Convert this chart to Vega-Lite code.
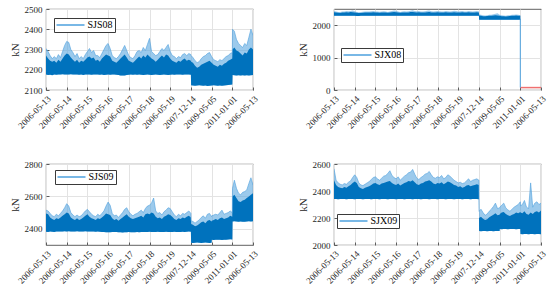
{
"$schema": "https://vega.github.io/schema/vega-lite/v6.json",
"background": "white",
"padding": {"left": 8, "top": 4, "right": 0, "bottom": 0},
"config": {
 "font": "Times New Roman, Liberation Serif, serif",
 "view": {"stroke": "#3a3a3a", "strokeWidth": 0.8},
 "axis": {"labelFont": "Times New Roman, Liberation Serif, serif", "labelFontSize": 9, "labelColor": "#262626", "titleFont": "Times New Roman, Liberation Serif, serif", "titleFontSize": 11, "titleFontWeight": "normal", "titleColor": "#262626", "gridColor": "#e3e3e3", "domain": false, "ticks": true, "tickSize": -3, "tickColor": "#3a3a3a", "tickWidth": 0.8, "labelPadding": 7, "labelOverlap": false, "labelBound": false},
 "axisX": {"labelAngle": -45},
 "axisY": {"format": "d"},
 "legend": {"orient": "none", "title": null, "labelFont": "Times New Roman, Liberation Serif, serif", "labelFontSize": 10, "labelColor": "#000", "strokeColor": "#3a3a3a", "fillColor": "white", "padding": 1.5, "labelOffset": 2, "symbolSize": 784, "symbolStrokeWidth": 1.5, "symbolType": "stroke", "clipHeight": 11}
},
"datasets": {
"s08": [
{"x":0,"lo":2176,"hi":2270,"pk":2305},{"x":0.1,"lo":2174,"hi":2255,"pk":2290},{"x":0.2,"lo":2175,"hi":2245,"pk":2270},{"x":0.3,"lo":2173,"hi":2240,"pk":2255},{"x":0.4,"lo":2176,"hi":2245,"pk":2265},{"x":0.5,"lo":2175,"hi":2235,"pk":2255},{"x":0.6,"lo":2177,"hi":2250,"pk":2275},{"x":0.7,"lo":2176,"hi":2240,"pk":2260},{"x":0.8,"lo":2178,"hi":2255,"pk":2290},{"x":0.9,"lo":2177,"hi":2270,"pk":2320},
{"x":1.0,"lo":2176,"hi":2280,"pk":2340},{"x":1.1,"lo":2177,"hi":2275,"pk":2335},{"x":1.2,"lo":2178,"hi":2260,"pk":2300},{"x":1.3,"lo":2177,"hi":2250,"pk":2285},{"x":1.4,"lo":2176,"hi":2240,"pk":2265},{"x":1.5,"lo":2177,"hi":2250,"pk":2280},{"x":1.6,"lo":2175,"hi":2235,"pk":2255},{"x":1.7,"lo":2176,"hi":2245,"pk":2265},{"x":1.8,"lo":2174,"hi":2240,"pk":2255},{"x":1.9,"lo":2176,"hi":2250,"pk":2275},
{"x":2.0,"lo":2177,"hi":2260,"pk":2290},{"x":2.1,"lo":2176,"hi":2265,"pk":2305},{"x":2.2,"lo":2175,"hi":2255,"pk":2285},{"x":2.3,"lo":2176,"hi":2260,"pk":2295},{"x":2.4,"lo":2177,"hi":2245,"pk":2270},{"x":2.5,"lo":2176,"hi":2250,"pk":2270},{"x":2.6,"lo":2175,"hi":2240,"pk":2260},{"x":2.7,"lo":2176,"hi":2255,"pk":2280},{"x":2.8,"lo":2174,"hi":2265,"pk":2300},{"x":2.9,"lo":2175,"hi":2275,"pk":2320},
{"x":3.0,"lo":2176,"hi":2270,"pk":2330},{"x":3.1,"lo":2175,"hi":2265,"pk":2305},{"x":3.2,"lo":2177,"hi":2245,"pk":2270},{"x":3.3,"lo":2176,"hi":2240,"pk":2260},{"x":3.4,"lo":2175,"hi":2235,"pk":2255},{"x":3.5,"lo":2174,"hi":2245,"pk":2265},{"x":3.6,"lo":2172,"hi":2255,"pk":2280},{"x":3.7,"lo":2171,"hi":2265,"pk":2300},{"x":3.8,"lo":2172,"hi":2275,"pk":2320},{"x":3.9,"lo":2174,"hi":2260,"pk":2295},
{"x":4.0,"lo":2175,"hi":2245,"pk":2270},{"x":4.1,"lo":2176,"hi":2240,"pk":2260},{"x":4.2,"lo":2175,"hi":2235,"pk":2255},{"x":4.3,"lo":2176,"hi":2245,"pk":2270},{"x":4.4,"lo":2175,"hi":2255,"pk":2290},{"x":4.5,"lo":2176,"hi":2265,"pk":2295},{"x":4.6,"lo":2175,"hi":2255,"pk":2285},{"x":4.7,"lo":2174,"hi":2270,"pk":2310},{"x":4.8,"lo":2175,"hi":2260,"pk":2295},{"x":4.9,"lo":2176,"hi":2275,"pk":2325},
{"x":5.0,"lo":2175,"hi":2265,"pk":2355},{"x":5.1,"lo":2174,"hi":2255,"pk":2290},{"x":5.2,"lo":2175,"hi":2250,"pk":2280},{"x":5.3,"lo":2176,"hi":2240,"pk":2270},{"x":5.4,"lo":2175,"hi":2250,"pk":2275},{"x":5.5,"lo":2174,"hi":2260,"pk":2290},{"x":5.6,"lo":2175,"hi":2270,"pk":2305},{"x":5.7,"lo":2176,"hi":2260,"pk":2295},{"x":5.8,"lo":2175,"hi":2275,"pk":2310},{"x":5.9,"lo":2174,"hi":2270,"pk":2325},
{"x":6.0,"lo":2175,"hi":2255,"pk":2290},{"x":6.1,"lo":2176,"hi":2245,"pk":2270},{"x":6.2,"lo":2175,"hi":2240,"pk":2265},{"x":6.3,"lo":2176,"hi":2235,"pk":2255},{"x":6.4,"lo":2177,"hi":2245,"pk":2265},{"x":6.5,"lo":2176,"hi":2240,"pk":2260},{"x":6.6,"lo":2175,"hi":2250,"pk":2275},{"x":6.7,"lo":2176,"hi":2255,"pk":2280},{"x":6.8,"lo":2177,"hi":2245,"pk":2270},{"x":6.9,"lo":2176,"hi":2250,"pk":2280},
{"x":7.0,"lo":2175,"hi":2245,"pk":2275},{"x":7.01,"lo":2123,"hi":2240,"pk":2270},{"x":7.1,"lo":2122,"hi":2235,"pk":2260},{"x":7.2,"lo":2121,"hi":2220,"pk":2245},{"x":7.3,"lo":2122,"hi":2210,"pk":2235},{"x":7.4,"lo":2123,"hi":2215,"pk":2240},{"x":7.5,"lo":2122,"hi":2225,"pk":2255},{"x":7.6,"lo":2121,"hi":2230,"pk":2265},{"x":7.7,"lo":2122,"hi":2235,"pk":2270},{"x":7.8,"lo":2120,"hi":2240,"pk":2280},{"x":7.9,"lo":2121,"hi":2245,"pk":2285},
{"x":8.0,"lo":2122,"hi":2235,"pk":2265},{"x":8.1,"lo":2123,"hi":2225,"pk":2250},{"x":8.2,"lo":2122,"hi":2220,"pk":2245},{"x":8.3,"lo":2121,"hi":2215,"pk":2240},{"x":8.4,"lo":2122,"hi":2225,"pk":2250},{"x":8.5,"lo":2121,"hi":2220,"pk":2245},{"x":8.6,"lo":2122,"hi":2230,"pk":2255},{"x":8.7,"lo":2123,"hi":2235,"pk":2265},{"x":8.8,"lo":2125,"hi":2245,"pk":2270},{"x":8.9,"lo":2126,"hi":2250,"pk":2280},
{"x":9.0,"lo":2127,"hi":2255,"pk":2285},{"x":9.01,"lo":2174,"hi":2300,"pk":2400},{"x":9.1,"lo":2173,"hi":2310,"pk":2390},{"x":9.2,"lo":2172,"hi":2295,"pk":2350},{"x":9.3,"lo":2173,"hi":2290,"pk":2330},{"x":9.4,"lo":2172,"hi":2280,"pk":2320},{"x":9.5,"lo":2173,"hi":2270,"pk":2310},{"x":9.6,"lo":2172,"hi":2285,"pk":2330},{"x":9.7,"lo":2173,"hi":2280,"pk":2320},{"x":9.8,"lo":2172,"hi":2300,"pk":2360},{"x":9.9,"lo":2173,"hi":2310,"pk":2400},{"x":10,"lo":2174,"hi":2300,"pk":2370}
],
"x08": [
{"x":0,"lo":2290,"hi":2400,"pk":2440},{"x":0.1,"lo":2288,"hi":2390,"pk":2420},{"x":0.2,"lo":2291,"hi":2385,"pk":2410},{"x":0.3,"lo":2289,"hi":2380,"pk":2405},{"x":0.4,"lo":2290,"hi":2390,"pk":2420},{"x":0.5,"lo":2292,"hi":2395,"pk":2425},{"x":0.6,"lo":2290,"hi":2400,"pk":2435},{"x":0.7,"lo":2289,"hi":2395,"pk":2430},{"x":0.8,"lo":2291,"hi":2405,"pk":2440},{"x":0.9,"lo":2290,"hi":2400,"pk":2450},
{"x":1.0,"lo":2288,"hi":2395,"pk":2430},{"x":1.1,"lo":2287,"hi":2385,"pk":2410},{"x":1.2,"lo":2286,"hi":2375,"pk":2400},{"x":1.3,"lo":2288,"hi":2380,"pk":2405},{"x":1.4,"lo":2290,"hi":2385,"pk":2415},{"x":1.5,"lo":2291,"hi":2390,"pk":2420},{"x":1.6,"lo":2290,"hi":2395,"pk":2425},{"x":1.7,"lo":2289,"hi":2390,"pk":2420},{"x":1.8,"lo":2291,"hi":2395,"pk":2430},{"x":1.9,"lo":2292,"hi":2400,"pk":2440},
{"x":2.0,"lo":2290,"hi":2395,"pk":2425},{"x":2.1,"lo":2289,"hi":2390,"pk":2420},{"x":2.2,"lo":2288,"hi":2385,"pk":2415},{"x":2.3,"lo":2290,"hi":2390,"pk":2420},{"x":2.4,"lo":2291,"hi":2395,"pk":2430},{"x":2.5,"lo":2290,"hi":2390,"pk":2420},{"x":2.6,"lo":2289,"hi":2385,"pk":2410},{"x":2.7,"lo":2290,"hi":2395,"pk":2425},{"x":2.8,"lo":2292,"hi":2400,"pk":2440},{"x":2.9,"lo":2293,"hi":2405,"pk":2450},
{"x":3.0,"lo":2292,"hi":2400,"pk":2445},{"x":3.1,"lo":2290,"hi":2390,"pk":2420},{"x":3.2,"lo":2289,"hi":2385,"pk":2410},{"x":3.3,"lo":2290,"hi":2390,"pk":2420},{"x":3.4,"lo":2291,"hi":2395,"pk":2430},{"x":3.5,"lo":2290,"hi":2390,"pk":2425},{"x":3.6,"lo":2291,"hi":2395,"pk":2430},{"x":3.7,"lo":2292,"hi":2405,"pk":2445},{"x":3.8,"lo":2293,"hi":2410,"pk":2460},{"x":3.9,"lo":2291,"hi":2400,"pk":2440},
{"x":4.0,"lo":2290,"hi":2395,"pk":2430},{"x":4.1,"lo":2291,"hi":2400,"pk":2440},{"x":4.2,"lo":2290,"hi":2395,"pk":2425},{"x":4.3,"lo":2289,"hi":2390,"pk":2420},{"x":4.4,"lo":2290,"hi":2395,"pk":2430},{"x":4.5,"lo":2291,"hi":2400,"pk":2445},{"x":4.6,"lo":2292,"hi":2405,"pk":2455},{"x":4.7,"lo":2290,"hi":2395,"pk":2430},{"x":4.8,"lo":2289,"hi":2390,"pk":2420},{"x":4.9,"lo":2290,"hi":2395,"pk":2430},
{"x":5.0,"lo":2291,"hi":2400,"pk":2440},{"x":5.1,"lo":2290,"hi":2395,"pk":2430},{"x":5.2,"lo":2289,"hi":2390,"pk":2420},{"x":5.3,"lo":2290,"hi":2395,"pk":2425},{"x":5.4,"lo":2291,"hi":2400,"pk":2440},{"x":5.5,"lo":2290,"hi":2395,"pk":2430},{"x":5.6,"lo":2289,"hi":2390,"pk":2420},{"x":5.7,"lo":2290,"hi":2395,"pk":2430},{"x":5.8,"lo":2291,"hi":2400,"pk":2445},{"x":5.9,"lo":2290,"hi":2395,"pk":2435},
{"x":6.0,"lo":2289,"hi":2390,"pk":2420},{"x":6.1,"lo":2290,"hi":2395,"pk":2430},{"x":6.2,"lo":2291,"hi":2400,"pk":2440},{"x":6.3,"lo":2290,"hi":2395,"pk":2425},{"x":6.4,"lo":2289,"hi":2390,"pk":2420},{"x":6.5,"lo":2291,"hi":2400,"pk":2435},{"x":6.6,"lo":2290,"hi":2395,"pk":2430},{"x":6.7,"lo":2289,"hi":2390,"pk":2420},{"x":6.8,"lo":2290,"hi":2395,"pk":2430},{"x":6.9,"lo":2291,"hi":2400,"pk":2440},
{"x":7.0,"lo":2290,"hi":2395,"pk":2430},{"x":7.01,"lo":2172,"hi":2300,"pk":2330},{"x":7.1,"lo":2171,"hi":2290,"pk":2320},{"x":7.2,"lo":2170,"hi":2280,"pk":2305},{"x":7.3,"lo":2169,"hi":2275,"pk":2300},{"x":7.4,"lo":2170,"hi":2285,"pk":2310},{"x":7.5,"lo":2171,"hi":2290,"pk":2320},{"x":7.6,"lo":2170,"hi":2295,"pk":2325},{"x":7.7,"lo":2171,"hi":2300,"pk":2340},{"x":7.8,"lo":2172,"hi":2305,"pk":2350},{"x":7.9,"lo":2171,"hi":2300,"pk":2365},
{"x":8.0,"lo":2170,"hi":2290,"pk":2320},{"x":8.1,"lo":2169,"hi":2280,"pk":2305},{"x":8.2,"lo":2168,"hi":2275,"pk":2300},{"x":8.3,"lo":2167,"hi":2270,"pk":2295},{"x":8.4,"lo":2168,"hi":2280,"pk":2305},{"x":8.5,"lo":2169,"hi":2285,"pk":2310},{"x":8.6,"lo":2170,"hi":2290,"pk":2320},{"x":8.7,"lo":2171,"hi":2295,"pk":2325},{"x":8.8,"lo":2172,"hi":2300,"pk":2330},{"x":8.9,"lo":2171,"hi":2295,"pk":2325},{"x":9.0,"lo":2170,"hi":2290,"pk":2310}
],
"x08tail": [
{"x":9.0,"y":2200,"k":"SJX08"},{"x":9.0,"y":75,"k":"SJX08"},{"x":9.0,"y":75,"k":"red"},{"x":10,"y":75,"k":"red"}
],
"s09": [
{"x":0,"lo":2382,"hi":2495,"pk":2515},{"x":0.1,"lo":2381,"hi":2490,"pk":2510},{"x":0.2,"lo":2383,"hi":2470,"pk":2495},{"x":0.3,"lo":2382,"hi":2460,"pk":2480},{"x":0.4,"lo":2381,"hi":2455,"pk":2475},{"x":0.5,"lo":2383,"hi":2465,"pk":2490},{"x":0.6,"lo":2384,"hi":2460,"pk":2480},{"x":0.7,"lo":2383,"hi":2470,"pk":2495},{"x":0.8,"lo":2384,"hi":2480,"pk":2510},{"x":0.9,"lo":2385,"hi":2490,"pk":2530},
{"x":1.0,"lo":2384,"hi":2500,"pk":2555},{"x":1.1,"lo":2385,"hi":2495,"pk":2540},{"x":1.2,"lo":2384,"hi":2470,"pk":2500},{"x":1.3,"lo":2383,"hi":2460,"pk":2485},{"x":1.4,"lo":2384,"hi":2455,"pk":2475},{"x":1.5,"lo":2385,"hi":2465,"pk":2485},{"x":1.6,"lo":2384,"hi":2455,"pk":2475},{"x":1.7,"lo":2383,"hi":2460,"pk":2480},{"x":1.8,"lo":2384,"hi":2470,"pk":2495},{"x":1.9,"lo":2385,"hi":2480,"pk":2510},
{"x":2.0,"lo":2384,"hi":2490,"pk":2520},{"x":2.1,"lo":2383,"hi":2475,"pk":2505},{"x":2.2,"lo":2384,"hi":2465,"pk":2490},{"x":2.3,"lo":2383,"hi":2460,"pk":2480},{"x":2.4,"lo":2382,"hi":2455,"pk":2475},{"x":2.5,"lo":2383,"hi":2465,"pk":2490},{"x":2.6,"lo":2382,"hi":2460,"pk":2480},{"x":2.7,"lo":2381,"hi":2470,"pk":2495},{"x":2.8,"lo":2380,"hi":2480,"pk":2510},{"x":2.9,"lo":2379,"hi":2495,"pk":2540},
{"x":3.0,"lo":2378,"hi":2490,"pk":2565},{"x":3.1,"lo":2379,"hi":2485,"pk":2545},{"x":3.2,"lo":2380,"hi":2465,"pk":2495},{"x":3.3,"lo":2381,"hi":2455,"pk":2480},{"x":3.4,"lo":2380,"hi":2460,"pk":2485},{"x":3.5,"lo":2379,"hi":2450,"pk":2470},{"x":3.6,"lo":2378,"hi":2460,"pk":2485},{"x":3.7,"lo":2377,"hi":2470,"pk":2500},{"x":3.8,"lo":2378,"hi":2480,"pk":2520},{"x":3.9,"lo":2379,"hi":2490,"pk":2530},
{"x":4.0,"lo":2380,"hi":2475,"pk":2505},{"x":4.1,"lo":2379,"hi":2465,"pk":2490},{"x":4.2,"lo":2378,"hi":2460,"pk":2480},{"x":4.3,"lo":2379,"hi":2465,"pk":2490},{"x":4.4,"lo":2380,"hi":2470,"pk":2495},{"x":4.5,"lo":2379,"hi":2475,"pk":2505},{"x":4.6,"lo":2380,"hi":2480,"pk":2515},{"x":4.7,"lo":2381,"hi":2470,"pk":2500},{"x":4.8,"lo":2380,"hi":2490,"pk":2525},{"x":4.9,"lo":2381,"hi":2495,"pk":2540},
{"x":5.0,"lo":2382,"hi":2490,"pk":2545},{"x":5.1,"lo":2381,"hi":2500,"pk":2560},{"x":5.2,"lo":2380,"hi":2495,"pk":2590},{"x":5.3,"lo":2381,"hi":2475,"pk":2510},{"x":5.4,"lo":2382,"hi":2465,"pk":2495},{"x":5.5,"lo":2381,"hi":2470,"pk":2500},{"x":5.6,"lo":2380,"hi":2460,"pk":2485},{"x":5.7,"lo":2381,"hi":2475,"pk":2505},{"x":5.8,"lo":2382,"hi":2480,"pk":2515},{"x":5.9,"lo":2381,"hi":2490,"pk":2530},
{"x":6.0,"lo":2380,"hi":2485,"pk":2525},{"x":6.1,"lo":2381,"hi":2475,"pk":2505},{"x":6.2,"lo":2382,"hi":2460,"pk":2485},{"x":6.3,"lo":2381,"hi":2455,"pk":2475},{"x":6.4,"lo":2380,"hi":2465,"pk":2490},{"x":6.5,"lo":2381,"hi":2460,"pk":2480},{"x":6.6,"lo":2382,"hi":2470,"pk":2495},{"x":6.7,"lo":2381,"hi":2465,"pk":2490},{"x":6.8,"lo":2382,"hi":2475,"pk":2500},{"x":6.9,"lo":2383,"hi":2480,"pk":2510},
{"x":7.0,"lo":2382,"hi":2470,"pk":2495},{"x":7.01,"lo":2314,"hi":2430,"pk":2450},{"x":7.1,"lo":2313,"hi":2425,"pk":2445},{"x":7.2,"lo":2314,"hi":2415,"pk":2435},{"x":7.3,"lo":2315,"hi":2420,"pk":2445},{"x":7.4,"lo":2314,"hi":2430,"pk":2455},{"x":7.5,"lo":2313,"hi":2440,"pk":2470},{"x":7.6,"lo":2314,"hi":2445,"pk":2480},{"x":7.7,"lo":2315,"hi":2435,"pk":2465},{"x":7.8,"lo":2314,"hi":2450,"pk":2490},{"x":7.9,"lo":2313,"hi":2455,"pk":2495},
{"x":8.0,"lo":2314,"hi":2445,"pk":2475},{"x":8.01,"lo":2332,"hi":2450,"pk":2480},{"x":8.1,"lo":2331,"hi":2455,"pk":2485},{"x":8.2,"lo":2332,"hi":2460,"pk":2490},{"x":8.3,"lo":2333,"hi":2455,"pk":2485},{"x":8.4,"lo":2332,"hi":2465,"pk":2500},{"x":8.5,"lo":2331,"hi":2470,"pk":2515},{"x":8.6,"lo":2332,"hi":2460,"pk":2490},{"x":8.7,"lo":2333,"hi":2465,"pk":2495},{"x":8.8,"lo":2334,"hi":2470,"pk":2500},{"x":8.9,"lo":2335,"hi":2480,"pk":2510},
{"x":9.0,"lo":2334,"hi":2475,"pk":2500},{"x":9.01,"lo":2445,"hi":2600,"pk":2650},{"x":9.1,"lo":2446,"hi":2610,"pk":2700},{"x":9.2,"lo":2445,"hi":2590,"pk":2650},{"x":9.3,"lo":2444,"hi":2570,"pk":2620},{"x":9.4,"lo":2445,"hi":2565,"pk":2610},{"x":9.5,"lo":2443,"hi":2575,"pk":2625},{"x":9.6,"lo":2444,"hi":2580,"pk":2630},{"x":9.7,"lo":2445,"hi":2590,"pk":2640},{"x":9.8,"lo":2446,"hi":2600,"pk":2680},{"x":9.9,"lo":2445,"hi":2610,"pk":2715},{"x":10,"lo":2446,"hi":2620,"pk":2670}
],
"x09": [
{"x":0,"lo":2340,"hi":2480,"pk":2565},{"x":0.1,"lo":2341,"hi":2445,"pk":2480},{"x":0.2,"lo":2339,"hi":2430,"pk":2460},{"x":0.3,"lo":2340,"hi":2425,"pk":2450},{"x":0.4,"lo":2341,"hi":2420,"pk":2445},{"x":0.5,"lo":2340,"hi":2430,"pk":2455},{"x":0.6,"lo":2339,"hi":2425,"pk":2450},{"x":0.7,"lo":2340,"hi":2435,"pk":2465},{"x":0.8,"lo":2341,"hi":2445,"pk":2475},{"x":0.9,"lo":2340,"hi":2460,"pk":2500},
{"x":1.0,"lo":2339,"hi":2470,"pk":2520},{"x":1.1,"lo":2340,"hi":2460,"pk":2500},{"x":1.2,"lo":2341,"hi":2430,"pk":2460},{"x":1.3,"lo":2340,"hi":2420,"pk":2445},{"x":1.4,"lo":2339,"hi":2415,"pk":2440},{"x":1.5,"lo":2340,"hi":2425,"pk":2450},{"x":1.6,"lo":2341,"hi":2430,"pk":2460},{"x":1.7,"lo":2340,"hi":2435,"pk":2470},{"x":1.8,"lo":2339,"hi":2445,"pk":2485},{"x":1.9,"lo":2340,"hi":2455,"pk":2500},
{"x":2.0,"lo":2341,"hi":2460,"pk":2505},{"x":2.1,"lo":2340,"hi":2450,"pk":2490},{"x":2.2,"lo":2339,"hi":2445,"pk":2480},{"x":2.3,"lo":2340,"hi":2455,"pk":2495},{"x":2.4,"lo":2341,"hi":2460,"pk":2510},{"x":2.5,"lo":2340,"hi":2465,"pk":2515},{"x":2.6,"lo":2339,"hi":2470,"pk":2530},{"x":2.7,"lo":2340,"hi":2475,"pk":2550},{"x":2.8,"lo":2341,"hi":2460,"pk":2515},{"x":2.9,"lo":2340,"hi":2450,"pk":2500},
{"x":3.0,"lo":2339,"hi":2445,"pk":2490},{"x":3.1,"lo":2340,"hi":2455,"pk":2505},{"x":3.2,"lo":2341,"hi":2440,"pk":2480},{"x":3.3,"lo":2340,"hi":2450,"pk":2495},{"x":3.4,"lo":2339,"hi":2460,"pk":2510},{"x":3.5,"lo":2340,"hi":2465,"pk":2520},{"x":3.6,"lo":2341,"hi":2475,"pk":2535},{"x":3.7,"lo":2340,"hi":2470,"pk":2540},{"x":3.8,"lo":2339,"hi":2480,"pk":2560},{"x":3.9,"lo":2340,"hi":2465,"pk":2525},
{"x":4.0,"lo":2341,"hi":2450,"pk":2495},{"x":4.1,"lo":2340,"hi":2445,"pk":2485},{"x":4.2,"lo":2339,"hi":2455,"pk":2500},{"x":4.3,"lo":2340,"hi":2460,"pk":2510},{"x":4.4,"lo":2341,"hi":2470,"pk":2525},{"x":4.5,"lo":2340,"hi":2475,"pk":2530},{"x":4.6,"lo":2339,"hi":2480,"pk":2545},{"x":4.7,"lo":2340,"hi":2470,"pk":2520},{"x":4.8,"lo":2341,"hi":2455,"pk":2500},{"x":4.9,"lo":2340,"hi":2450,"pk":2495},
{"x":5.0,"lo":2339,"hi":2460,"pk":2505},{"x":5.1,"lo":2340,"hi":2455,"pk":2500},{"x":5.2,"lo":2341,"hi":2465,"pk":2515},{"x":5.3,"lo":2340,"hi":2450,"pk":2490},{"x":5.4,"lo":2339,"hi":2460,"pk":2500},{"x":5.5,"lo":2340,"hi":2470,"pk":2520},{"x":5.6,"lo":2341,"hi":2465,"pk":2510},{"x":5.7,"lo":2340,"hi":2455,"pk":2495},{"x":5.8,"lo":2339,"hi":2445,"pk":2480},{"x":5.9,"lo":2340,"hi":2440,"pk":2470},
{"x":6.0,"lo":2341,"hi":2430,"pk":2460},{"x":6.1,"lo":2340,"hi":2435,"pk":2465},{"x":6.2,"lo":2339,"hi":2425,"pk":2455},{"x":6.3,"lo":2340,"hi":2430,"pk":2460},{"x":6.4,"lo":2341,"hi":2440,"pk":2475},{"x":6.5,"lo":2340,"hi":2445,"pk":2490},{"x":6.6,"lo":2339,"hi":2435,"pk":2470},{"x":6.7,"lo":2340,"hi":2440,"pk":2480},{"x":6.8,"lo":2341,"hi":2445,"pk":2485},{"x":6.9,"lo":2340,"hi":2450,"pk":2490},
{"x":7.0,"lo":2339,"hi":2445,"pk":2480},{"x":7.01,"lo":2103,"hi":2200,"pk":2250},{"x":7.1,"lo":2102,"hi":2210,"pk":2265},{"x":7.2,"lo":2104,"hi":2195,"pk":2240},{"x":7.3,"lo":2103,"hi":2185,"pk":2220},{"x":7.4,"lo":2102,"hi":2190,"pk":2230},{"x":7.5,"lo":2104,"hi":2205,"pk":2250},{"x":7.6,"lo":2103,"hi":2215,"pk":2265},{"x":7.7,"lo":2102,"hi":2225,"pk":2285},{"x":7.8,"lo":2104,"hi":2235,"pk":2310},{"x":7.9,"lo":2103,"hi":2220,"pk":2270},
{"x":8.0,"lo":2104,"hi":2225,"pk":2275},{"x":8.01,"lo":2118,"hi":2230,"pk":2280},{"x":8.1,"lo":2117,"hi":2240,"pk":2295},{"x":8.2,"lo":2119,"hi":2245,"pk":2310},{"x":8.3,"lo":2118,"hi":2230,"pk":2275},{"x":8.4,"lo":2117,"hi":2220,"pk":2260},{"x":8.5,"lo":2118,"hi":2215,"pk":2250},{"x":8.6,"lo":2119,"hi":2225,"pk":2265},{"x":8.7,"lo":2118,"hi":2230,"pk":2280},{"x":8.8,"lo":2117,"hi":2240,"pk":2290},{"x":8.9,"lo":2118,"hi":2235,"pk":2300},
{"x":9.0,"lo":2119,"hi":2245,"pk":2320},{"x":9.01,"lo":2081,"hi":2240,"pk":2290},{"x":9.1,"lo":2080,"hi":2235,"pk":2300},{"x":9.2,"lo":2082,"hi":2250,"pk":2330},{"x":9.3,"lo":2081,"hi":2230,"pk":2280},{"x":9.4,"lo":2080,"hi":2225,"pk":2270},{"x":9.5,"lo":2082,"hi":2240,"pk":2460},{"x":9.6,"lo":2081,"hi":2230,"pk":2280},{"x":9.7,"lo":2080,"hi":2245,"pk":2310},{"x":9.8,"lo":2082,"hi":2250,"pk":2320},{"x":9.9,"lo":2081,"hi":2240,"pk":2300},{"x":10,"lo":2080,"hi":2255,"pk":2310}
]
},
"columns": 2,
"spacing": {"row": 28, "column": 36},
"resolve": {"scale": {"color": "independent", "x": "independent", "y": "independent"}, "legend": {"color": "independent"}},
"concat": [
{
 "width": 207, "height": 81,
 "data": {"name": "s08"},
 "encoding": {
  "x": {"field": "x", "type": "quantitative", "scale": {"domain": [0, 10], "nice": false}, "axis": {"title": null, "values": [0,1,2,3,4,5,6,7,8,9,10], "labelExpr": "['2006-05-13','2006-05-14','2006-05-15','2006-05-16','2006-05-17','2006-05-18','2006-05-19','2007-12-14','2009-05-05','2011-01-01','2006-05-13'][datum.value]"}},
  "y": {"field": "lo", "type": "quantitative", "scale": {"domain": [2100, 2500], "nice": false, "zero": false}, "axis": {"title": "kN", "values": [2100,2200,2300,2400,2500]}}
 },
 "layer": [
  {"mark": {"type": "area", "color": "#5aa6df", "opacity": 0.6, "clip": true}, "encoding": {"y2": {"field": "pk"}}},
  {"mark": {"type": "area", "color": "#0072BD", "clip": true}, "encoding": {"y2": {"field": "hi"}}},
  {"mark": {"type": "line", "strokeWidth": 0.6, "clip": true}, "encoding": {"y": {"field": "pk", "type": "quantitative"}, "color": {"datum": "SJS08", "scale": {"range": ["#4DA0DE"]}, "legend": {"legendX": 8, "legendY": 9}}}}
 ]
},
{
 "width": 207, "height": 81,
 "encoding": {
  "x": {"field": "x", "type": "quantitative", "scale": {"domain": [0, 10], "nice": false}, "axis": {"title": null, "values": [0,1,2,3,4,5,6,7,8,9,10], "labelExpr": "['2006-05-13','2006-05-14','2006-05-15','2006-05-16','2006-05-17','2006-05-18','2006-05-19','2007-12-14','2009-05-05','2011-01-01','2006-05-13'][datum.value]"}},
  "y": {"field": "lo", "type": "quantitative", "scale": {"domain": [0, 2500], "nice": false}, "axis": {"title": "kN", "values": [0,1000,2000]}}
 },
 "layer": [
  {"data": {"name": "x08"}, "mark": {"type": "area", "color": "#5aa6df", "opacity": 0.6, "clip": true}, "encoding": {"y2": {"field": "pk"}}},
  {"data": {"name": "x08"}, "mark": {"type": "area", "color": "#0072BD", "clip": true}, "encoding": {"y2": {"field": "hi"}}},
  {"data": {"name": "x08tail"}, "transform": [{"filter": "datum.k == 'red'"}], "mark": {"type": "line", "color": "#f07070", "strokeWidth": 1.5}, "encoding": {"y": {"field": "y", "type": "quantitative"}}},
  {"data": {"name": "x08tail"}, "transform": [{"filter": "datum.k == 'SJX08'"}], "mark": {"type": "line", "strokeWidth": 1}, "encoding": {"y": {"field": "y", "type": "quantitative"}, "color": {"datum": "SJX08", "scale": {"range": ["#4DA0DE"]}, "legend": {"legendX": 7, "legendY": 39}}}}
 ]
},
{
 "width": 207, "height": 81,
 "data": {"name": "s09"},
 "encoding": {
  "x": {"field": "x", "type": "quantitative", "scale": {"domain": [0, 10], "nice": false}, "axis": {"title": null, "values": [0,1,2,3,4,5,6,7,8,9,10], "labelExpr": "['2006-05-13','2006-05-14','2006-05-15','2006-05-16','2006-05-17','2006-05-18','2006-05-19','2007-12-14','2009-05-05','2011-01-01','2006-05-13'][datum.value]"}},
  "y": {"field": "lo", "type": "quantitative", "scale": {"domain": [2300, 2800], "nice": false, "zero": false}, "axis": {"title": "kN", "values": [2400,2600,2800]}}
 },
 "layer": [
  {"mark": {"type": "area", "color": "#5aa6df", "opacity": 0.6, "clip": true}, "encoding": {"y2": {"field": "pk"}}},
  {"mark": {"type": "area", "color": "#0072BD", "clip": true}, "encoding": {"y2": {"field": "hi"}}},
  {"mark": {"type": "line", "strokeWidth": 0.6, "clip": true}, "encoding": {"y": {"field": "pk", "type": "quantitative"}, "color": {"datum": "SJS09", "scale": {"range": ["#4DA0DE"]}, "legend": {"legendX": 9, "legendY": 6}}}}
 ]
},
{
 "width": 207, "height": 81,
 "data": {"name": "x09"},
 "encoding": {
  "x": {"field": "x", "type": "quantitative", "scale": {"domain": [0, 10], "nice": false}, "axis": {"title": null, "values": [0,1,2,3,4,5,6,7,8,9,10], "labelExpr": "['2006-05-13','2006-05-14','2006-05-15','2006-05-16','2006-05-17','2006-05-18','2006-05-19','2007-12-14','2009-05-05','2011-01-01','2006-05-13'][datum.value]"}},
  "y": {"field": "lo", "type": "quantitative", "scale": {"domain": [2000, 2600], "nice": false, "zero": false}, "axis": {"title": "kN", "values": [2000,2200,2400,2600]}}
 },
 "layer": [
  {"mark": {"type": "area", "color": "#5aa6df", "opacity": 0.6, "clip": true}, "encoding": {"y2": {"field": "pk"}}},
  {"mark": {"type": "area", "color": "#0072BD", "clip": true}, "encoding": {"y2": {"field": "hi"}}},
  {"mark": {"type": "line", "strokeWidth": 0.6, "clip": true}, "encoding": {"y": {"field": "pk", "type": "quantitative"}, "color": {"datum": "SJX09", "scale": {"range": ["#4DA0DE"]}, "legend": {"legendX": 3, "legendY": 50}}}}
 ]
}
]
}
